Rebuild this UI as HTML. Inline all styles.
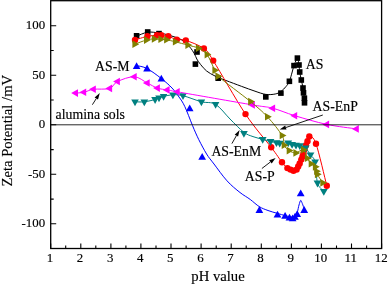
<!DOCTYPE html>
<html><head><meta charset="utf-8"><title>Zeta potential vs pH</title>
<style>html,body{margin:0;padding:0;background:#fff;overflow:hidden}svg{filter:blur(0.35px)}.tx{font-family:"Liberation Serif","Times New Roman",serif}</style></head>
<body>
<svg width="388" height="285" viewBox="0 0 388 285" style="display:block">
<rect width="388" height="285" fill="#fff"/>
<path d="M136.6 36.2 C138.4 35.5 144.0 32.7 147.7 32.2 C151.4 31.7 155.3 32.5 159.0 33.0 C162.7 33.5 166.2 34.3 170.0 35.5 C173.8 36.7 178.7 38.1 182.0 40.0 C185.3 41.9 187.6 44.7 189.7 47.0 C191.8 49.3 193.1 51.6 194.3 53.6 C195.5 55.6 195.8 57.2 196.8 59.0 C197.8 60.8 198.9 62.4 200.5 64.4 C202.1 66.4 204.2 69.1 206.6 71.0 C209.0 72.9 211.8 74.4 215.0 76.0 C218.2 77.6 221.6 78.8 226.0 80.5 C230.4 82.2 236.6 84.5 241.4 86.3 C246.2 88.1 250.9 89.8 255.0 91.2 C259.1 92.6 262.4 93.9 265.8 94.4 C269.2 94.9 272.7 94.5 275.2 94.0 C277.7 93.5 279.2 92.8 281.0 91.5 C282.8 90.2 284.6 88.2 286.0 86.5 C287.4 84.8 288.4 83.7 289.4 81.3 C290.4 78.9 291.4 74.6 292.2 72.0 C293.0 69.4 293.1 67.9 294.0 65.6 C294.9 63.3 296.6 58.2 297.4 58.1 C298.2 58.0 298.6 62.7 299.0 65.0 C299.4 67.3 299.3 69.5 299.7 72.0 C300.1 74.5 300.8 77.3 301.3 80.0 C301.9 82.7 302.5 85.0 303.0 88.0 C303.5 91.0 304.1 95.7 304.4 98.2 C304.6 100.7 304.5 102.0 304.5 102.8" fill="none" stroke="#000" stroke-width="1.00" stroke-linejoin="round"/>
<rect x="133.8" y="33.0" width="5.6" height="5.6" fill="#000"/><rect x="144.9" y="29.2" width="5.6" height="5.6" fill="#000"/><rect x="156.2" y="30.8" width="5.6" height="5.6" fill="#000"/><rect x="194.2" y="49.2" width="5.6" height="5.6" fill="#000"/><rect x="192.6" y="61.3" width="5.6" height="5.6" fill="#000"/><rect x="215.4" y="75.4" width="5.6" height="5.6" fill="#000"/><rect x="263.0" y="94.1" width="5.6" height="5.6" fill="#000"/><rect x="278.1" y="90.3" width="5.6" height="5.6" fill="#000"/><rect x="286.6" y="78.5" width="5.6" height="5.6" fill="#000"/><rect x="291.2" y="62.8" width="5.6" height="5.6" fill="#000"/><rect x="294.6" y="55.3" width="5.6" height="5.6" fill="#000"/><rect x="296.2" y="62.2" width="5.6" height="5.6" fill="#000"/><rect x="296.9" y="69.2" width="5.6" height="5.6" fill="#000"/><rect x="298.5" y="77.2" width="5.6" height="5.6" fill="#000"/><rect x="300.2" y="85.2" width="5.6" height="5.6" fill="#000"/><rect x="300.7" y="90.0" width="5.6" height="5.6" fill="#000"/><rect x="301.6" y="95.4" width="5.6" height="5.6" fill="#000"/><rect x="301.7" y="100.0" width="5.6" height="5.6" fill="#000"/>
<path d="M135.0 40.0 C137.1 39.4 143.7 37.1 147.4 36.3 C151.1 35.5 154.7 35.5 157.0 35.3 C159.3 35.1 159.4 35.1 161.3 35.3 C163.2 35.5 165.7 35.6 168.3 36.3 C170.9 37.0 173.9 38.9 176.8 39.6 C179.7 40.3 181.3 38.9 185.8 40.4 C190.3 41.9 199.3 45.1 203.9 48.5 C208.5 51.9 206.3 49.7 213.2 60.6 C220.1 71.5 235.8 99.6 245.5 114.1 C255.2 128.6 265.1 139.3 271.2 147.3 C277.3 155.3 279.3 158.8 282.0 162.3 C284.7 165.8 286.0 166.9 287.4 168.1 C288.8 169.3 289.5 169.2 290.5 169.6 C291.5 170.0 292.5 170.7 293.5 170.7 C294.5 170.7 295.8 170.3 296.6 169.6 C297.4 168.9 297.7 167.5 298.2 166.5 C298.7 165.5 299.2 164.6 299.7 163.4 C300.2 162.2 300.8 160.8 301.3 159.6 C301.8 158.5 302.1 157.6 302.5 156.5 C302.9 155.4 303.2 154.5 303.5 153.3 C303.8 152.1 304.1 150.6 304.5 149.3 C304.9 148.0 305.5 146.6 306.0 145.3 C306.5 144.0 306.9 142.8 307.5 141.3 C308.1 139.8 307.9 136.0 309.3 136.4 C310.7 136.8 313.1 135.6 316.0 143.8 C318.9 152.0 325.0 178.8 326.8 185.8" fill="none" stroke="#f00" stroke-width="1.00" stroke-linejoin="round"/>
<circle cx="135.0" cy="40.0" r="3.2" fill="#f00"/><circle cx="147.4" cy="36.3" r="3.2" fill="#f00"/><circle cx="157.0" cy="35.3" r="3.2" fill="#f00"/><circle cx="161.3" cy="35.3" r="3.2" fill="#f00"/><circle cx="168.3" cy="36.3" r="3.2" fill="#f00"/><circle cx="176.8" cy="39.6" r="3.2" fill="#f00"/><circle cx="185.8" cy="40.4" r="3.2" fill="#f00"/><circle cx="203.9" cy="48.5" r="3.2" fill="#f00"/><circle cx="213.2" cy="60.6" r="3.2" fill="#f00"/><circle cx="245.5" cy="114.1" r="3.2" fill="#f00"/><circle cx="271.2" cy="147.3" r="3.2" fill="#f00"/><circle cx="282.0" cy="162.3" r="3.2" fill="#f00"/><circle cx="287.4" cy="168.1" r="3.2" fill="#f00"/><circle cx="290.5" cy="169.6" r="3.2" fill="#f00"/><circle cx="293.5" cy="170.7" r="3.2" fill="#f00"/><circle cx="296.6" cy="169.6" r="3.2" fill="#f00"/><circle cx="298.2" cy="166.5" r="3.2" fill="#f00"/><circle cx="299.7" cy="163.4" r="3.2" fill="#f00"/><circle cx="301.3" cy="159.6" r="3.2" fill="#f00"/><circle cx="302.5" cy="156.5" r="3.2" fill="#f00"/><circle cx="303.5" cy="153.3" r="3.2" fill="#f00"/><circle cx="304.5" cy="149.3" r="3.2" fill="#f00"/><circle cx="306.0" cy="145.3" r="3.2" fill="#f00"/><circle cx="307.5" cy="141.3" r="3.2" fill="#f00"/><circle cx="309.3" cy="136.4" r="3.2" fill="#f00"/><circle cx="316.0" cy="143.8" r="3.2" fill="#f00"/><circle cx="326.8" cy="185.8" r="3.2" fill="#f00"/>
<path d="M136.6 65.6 C138.3 66.1 142.9 66.3 147.0 68.5 C151.1 70.7 157.1 75.2 161.3 78.5 C165.5 81.8 169.1 84.9 172.0 88.0 C174.9 91.1 176.9 94.0 179.0 97.0 C181.1 100.0 182.4 101.5 184.7 106.3 C186.9 111.0 190.2 119.9 192.5 125.5 C194.8 131.1 196.5 134.9 198.8 139.7 C201.2 144.4 204.1 149.9 206.6 154.0 C209.1 158.1 210.6 159.5 214.0 164.0 C217.4 168.5 222.7 176.1 227.0 180.8 C231.3 185.6 236.1 189.4 240.0 192.5 C243.9 195.6 247.1 197.1 250.3 199.5 C253.5 201.9 256.4 204.9 259.4 206.7 C262.3 208.5 265.0 209.4 268.0 210.5 C271.0 211.6 274.7 212.6 277.5 213.4 C280.3 214.2 283.0 215.1 285.0 215.6 C287.0 216.1 288.2 216.4 289.5 216.6 C290.8 216.8 291.6 217.2 292.6 217.0 C293.6 216.8 294.7 216.3 295.5 215.5 C296.3 214.7 296.8 213.8 297.4 212.0 C298.0 210.2 298.4 206.9 299.0 205.0 C299.6 203.1 300.1 200.7 300.7 200.4 C301.2 200.2 301.7 202.1 302.3 203.5 C302.9 204.9 303.9 208.1 304.2 209.0" fill="none" stroke="#00f" stroke-width="1.00" stroke-linejoin="round"/>
<polygon points="136.6,62.2 132.8,69.0 140.4,69.0" fill="#00f"/><polygon points="147.1,64.6 143.2,71.4 150.9,71.4" fill="#00f"/><polygon points="161.3,74.7 157.5,81.5 165.2,81.5" fill="#00f"/><polygon points="189.7,104.4 185.8,111.2 193.5,111.2" fill="#00f"/><polygon points="202.2,153.0 198.3,159.8 206.0,159.8" fill="#00f"/><polygon points="259.4,206.1 255.5,212.9 263.2,212.9" fill="#00f"/><polygon points="277.5,210.7 273.6,217.5 281.4,217.5" fill="#00f"/><polygon points="285.1,211.9 281.2,218.7 289.0,218.7" fill="#00f"/><polygon points="289.5,213.7 285.6,220.5 293.4,220.5" fill="#00f"/><polygon points="292.6,214.4 288.8,221.2 296.5,221.2" fill="#00f"/><polygon points="294.9,213.0 291.0,219.8 298.8,219.8" fill="#00f"/><polygon points="297.2,210.2 293.3,217.0 301.1,217.0" fill="#00f"/><polygon points="300.7,189.4 296.8,196.2 304.6,196.2" fill="#00f"/><polygon points="304.2,206.1 300.3,212.9 308.1,212.9" fill="#00f"/>
<path d="M135.0 101.8 C136.6 101.8 141.0 102.2 144.3 101.8 C147.7 101.4 152.7 100.2 155.1 99.5 C157.5 98.8 157.6 98.4 159.0 97.9 C160.4 97.4 161.3 96.9 163.6 96.4 C165.9 95.9 169.7 94.9 172.9 94.8 C176.1 94.7 178.2 94.5 183.0 95.7 C187.8 96.9 196.0 100.3 201.4 101.8 C206.8 103.2 210.8 101.5 215.6 104.4 C220.4 107.3 225.3 114.3 230.0 119.0 C234.7 123.7 240.1 129.4 243.9 132.3 C247.7 135.2 249.9 135.4 253.0 136.6 C256.1 137.8 259.8 138.5 262.7 139.3 C265.6 140.1 268.2 140.9 270.5 141.5 C272.8 142.1 275.0 142.4 276.5 142.7 C278.0 143.0 277.8 143.2 279.7 143.2 C281.6 143.2 286.1 142.7 288.2 142.9 C290.3 143.1 290.8 144.0 292.1 144.4 C293.4 144.8 294.7 145.0 296.0 145.2 C297.3 145.4 298.2 145.2 299.8 145.7 C301.4 146.2 303.7 146.5 305.5 148.0 C307.3 149.5 308.9 152.6 310.5 154.9 C312.1 157.2 313.9 157.2 315.1 161.9 C316.3 166.6 316.1 178.1 317.5 183.0 C318.9 187.9 322.8 190.0 323.8 191.4" fill="none" stroke="#008080" stroke-width="1.00" stroke-linejoin="round"/>
<polygon points="135.0,106.2 131.2,99.4 138.8,99.4" fill="#008080"/><polygon points="144.3,106.2 140.5,99.4 148.2,99.4" fill="#008080"/><polygon points="155.1,103.9 151.2,97.1 158.9,97.1" fill="#008080"/><polygon points="159.0,102.3 155.2,95.5 162.8,95.5" fill="#008080"/><polygon points="163.6,100.8 159.8,94.0 167.4,94.0" fill="#008080"/><polygon points="172.9,99.2 169.1,92.4 176.8,92.4" fill="#008080"/><polygon points="183.0,100.1 179.2,93.3 186.8,93.3" fill="#008080"/><polygon points="201.4,106.2 197.6,99.4 205.2,99.4" fill="#008080"/><polygon points="215.6,108.8 211.8,102.0 219.4,102.0" fill="#008080"/><polygon points="243.9,137.8 240.1,131.0 247.8,131.0" fill="#008080"/><polygon points="262.7,143.7 258.8,136.9 266.6,136.9" fill="#008080"/><polygon points="270.5,145.9 266.6,139.1 274.4,139.1" fill="#008080"/><polygon points="276.5,147.1 272.6,140.3 280.4,140.3" fill="#008080"/><polygon points="279.7,147.6 275.8,140.8 283.6,140.8" fill="#008080"/><polygon points="288.2,147.3 284.3,140.5 292.1,140.5" fill="#008080"/><polygon points="292.1,148.8 288.2,142.0 296.0,142.0" fill="#008080"/><polygon points="296.0,149.6 292.1,142.8 299.9,142.8" fill="#008080"/><polygon points="299.8,150.1 295.9,143.3 303.7,143.3" fill="#008080"/><polygon points="305.5,152.4 301.6,145.6 309.4,145.6" fill="#008080"/><polygon points="310.5,159.3 306.6,152.5 314.4,152.5" fill="#008080"/><polygon points="315.1,166.3 311.2,159.5 319.0,159.5" fill="#008080"/><polygon points="317.5,187.4 313.6,180.6 321.4,180.6" fill="#008080"/><polygon points="323.8,195.8 319.9,189.0 327.7,189.0" fill="#008080"/>
<path d="M75.6 93.1 C77.0 93.0 80.8 92.9 83.8 92.3 C86.8 91.7 89.1 89.9 93.4 89.3 C97.7 88.7 105.7 89.7 109.7 88.4 C113.7 87.1 113.4 83.4 117.5 81.5 C121.6 79.6 129.3 76.5 134.3 76.8 C139.3 77.0 143.4 81.1 147.3 83.0 C151.2 84.9 154.2 87.0 157.5 88.1 C160.8 89.3 163.9 89.3 167.2 89.9 C170.5 90.5 163.1 89.3 177.3 91.8 C191.5 94.3 236.6 102.2 252.5 104.9 C268.4 107.6 265.6 106.4 272.7 108.2 C279.8 110.0 285.8 113.0 294.8 115.7 C303.8 118.4 316.4 122.2 326.7 124.4 C337.0 126.6 351.4 128.1 356.4 128.9" fill="none" stroke="#f0f" stroke-width="1.00" stroke-linejoin="round"/>
<polygon points="71.2,93.1 78.0,89.3 78.0,97.0" fill="#f0f"/><polygon points="79.4,92.3 86.2,88.5 86.2,96.1" fill="#f0f"/><polygon points="89.0,89.3 95.8,85.5 95.8,93.1" fill="#f0f"/><polygon points="105.3,88.4 112.1,84.6 112.1,92.2" fill="#f0f"/><polygon points="113.1,81.5 119.9,77.7 119.9,85.3" fill="#f0f"/><polygon points="129.9,76.8 136.7,73.0 136.7,80.6" fill="#f0f"/><polygon points="142.9,83.0 149.7,79.2 149.7,86.8" fill="#f0f"/><polygon points="153.1,88.1 159.9,84.3 159.9,92.0" fill="#f0f"/><polygon points="162.8,89.9 169.6,86.1 169.6,93.8" fill="#f0f"/><polygon points="172.9,91.8 179.7,88.0 179.7,95.6" fill="#f0f"/><polygon points="248.1,104.9 254.9,101.1 254.9,108.8" fill="#f0f"/><polygon points="268.3,108.2 275.1,104.4 275.1,112.0" fill="#f0f"/><polygon points="290.4,115.7 297.2,111.9 297.2,119.5" fill="#f0f"/><polygon points="322.3,124.4 329.1,120.6 329.1,128.2" fill="#f0f"/><polygon points="352.0,128.9 358.8,125.0 358.8,132.7" fill="#f0f"/>
<path d="M134.8 44.2 C136.7 43.5 143.2 40.9 146.4 40.0 C149.6 39.1 151.8 39.0 154.2 38.9 C156.6 38.8 158.8 39.1 160.8 39.3 C162.9 39.4 164.1 39.4 166.5 39.8 C168.9 40.2 171.8 40.9 175.3 41.8 C178.9 42.7 184.0 44.0 187.8 45.1 C191.6 46.2 195.1 46.6 198.3 48.2 C201.5 49.8 204.2 50.8 207.0 54.5 C209.8 58.2 213.0 66.7 214.8 70.3 C216.6 73.9 212.1 71.0 218.0 76.2 C223.9 81.4 242.3 94.8 250.5 101.6 C258.7 108.4 262.1 111.1 267.4 116.8 C272.7 122.5 279.3 130.8 282.1 135.5 C284.9 140.2 282.9 142.7 284.1 145.2 C285.3 147.7 287.2 149.3 289.1 150.6 C291.1 151.9 293.4 153.1 295.8 152.9 C298.2 152.8 301.4 148.8 303.3 149.7 C305.2 150.6 306.0 155.9 307.3 158.2 C308.6 160.5 309.8 162.3 311.1 163.7 C312.4 165.1 314.4 165.6 315.3 166.8 C316.2 168.1 316.2 170.0 316.5 171.2 C316.8 172.5 316.3 172.4 317.3 174.3 C318.3 176.2 321.8 181.4 322.7 182.8" fill="none" stroke="#808000" stroke-width="1.00" stroke-linejoin="round"/>
<polygon points="139.2,44.2 132.4,40.3 132.4,48.0" fill="#808000"/><polygon points="150.8,40.0 144.0,36.1 144.0,43.9" fill="#808000"/><polygon points="158.6,38.9 151.8,35.0 151.8,42.8" fill="#808000"/><polygon points="165.2,39.3 158.4,35.4 158.4,43.1" fill="#808000"/><polygon points="170.9,39.8 164.1,35.9 164.1,43.6" fill="#808000"/><polygon points="179.7,41.8 172.9,37.9 172.9,45.6" fill="#808000"/><polygon points="192.2,45.1 185.4,41.2 185.4,48.9" fill="#808000"/><polygon points="202.7,48.2 195.9,44.3 195.9,52.0" fill="#808000"/><polygon points="211.4,54.5 204.6,50.6 204.6,58.4" fill="#808000"/><polygon points="219.2,70.3 212.4,66.5 212.4,74.1" fill="#808000"/><polygon points="222.4,76.2 215.6,72.4 215.6,80.0" fill="#808000"/><polygon points="254.9,101.6 248.1,97.8 248.1,105.4" fill="#808000"/><polygon points="271.8,116.8 265.0,113.0 265.0,120.6" fill="#808000"/><polygon points="286.5,135.5 279.7,131.7 279.7,139.3" fill="#808000"/><polygon points="288.5,145.2 281.7,141.4 281.7,149.1" fill="#808000"/><polygon points="293.5,150.6 286.7,146.8 286.7,154.5" fill="#808000"/><polygon points="300.2,152.9 293.4,149.1 293.4,156.8" fill="#808000"/><polygon points="307.7,149.7 300.9,145.9 300.9,153.6" fill="#808000"/><polygon points="311.7,158.2 304.9,154.4 304.9,162.1" fill="#808000"/><polygon points="315.5,163.7 308.7,159.9 308.7,167.6" fill="#808000"/><polygon points="319.7,166.8 312.9,163.0 312.9,170.7" fill="#808000"/><polygon points="320.9,171.2 314.1,167.4 314.1,175.1" fill="#808000"/><polygon points="321.7,174.3 314.9,170.5 314.9,178.2" fill="#808000"/><polygon points="327.1,182.8 320.3,179.0 320.3,186.7" fill="#808000"/>
<line x1="50.7" y1="124.8" x2="381.6" y2="124.8" stroke="#000" stroke-width="0.85"/>
<rect x="50.7" y="0.7" width="330.9" height="247.8" fill="none" stroke="#000" stroke-width="1.3"/>
<path d="M50.7 248.5V243.5M65.7 248.5V245.5M80.8 248.5V243.5M95.8 248.5V245.5M110.9 248.5V243.5M125.9 248.5V245.5M140.9 248.5V243.5M156.0 248.5V245.5M171.0 248.5V243.5M186.1 248.5V245.5M201.1 248.5V243.5M216.2 248.5V245.5M231.2 248.5V243.5M246.2 248.5V245.5M261.3 248.5V243.5M276.3 248.5V245.5M291.4 248.5V243.5M306.4 248.5V245.5M321.4 248.5V243.5M336.5 248.5V245.5M351.5 248.5V243.5M366.6 248.5V245.5M381.6 248.5V243.5M50.7 223.8H56.2M50.7 174.3H56.2M50.7 124.8H56.2M50.7 75.3H56.2M50.7 25.8H56.2M50.7 199.1H53.7M50.7 149.6H53.7M50.7 100.0H53.7M50.7 50.5H53.7" stroke="#000" stroke-width="1.1" fill="none"/>
<g class="tx" fill="#000" stroke="#000" stroke-width="0.15">
<g font-size="12.9">
<text x="50.0" y="262.0" text-anchor="middle">1</text>
<text x="80.1" y="262.0" text-anchor="middle">2</text>
<text x="110.2" y="262.0" text-anchor="middle">3</text>
<text x="140.2" y="262.0" text-anchor="middle">4</text>
<text x="170.3" y="262.0" text-anchor="middle">5</text>
<text x="200.4" y="262.0" text-anchor="middle">6</text>
<text x="230.5" y="262.0" text-anchor="middle">7</text>
<text x="260.6" y="262.0" text-anchor="middle">8</text>
<text x="290.7" y="262.0" text-anchor="middle">9</text>
<text x="320.7" y="262.0" text-anchor="middle">10</text>
<text x="350.8" y="262.0" text-anchor="middle">11</text>
<text x="381.3" y="262.0" text-anchor="middle">12</text>
<text x="45.2" y="227.2" text-anchor="end">-100</text>
<text x="45.2" y="177.7" text-anchor="end">-50</text>
<text x="45.2" y="128.2" text-anchor="end">0</text>
<text x="45.2" y="78.7" text-anchor="end">50</text>
<text x="45.2" y="29.2" text-anchor="end">100</text>
</g>
<text x="218" y="281.2" text-anchor="middle" font-size="14.7">pH value</text>
<text transform="translate(11.6 130.7) rotate(-90)" text-anchor="middle" font-size="14.7">Zeta Potential /mV</text>
<g font-size="13.8">
<text x="305.8" y="68.8">AS</text>
<text x="312.6" y="111.2">AS-EnP</text>
<text x="95" y="71">AS-M</text>
<text x="55.6" y="118.8">alumina sols</text>
<text x="211.4" y="155.9">AS-EnM</text>
<text x="244.8" y="181.2">AS-P</text>
</g></g>
<line x1="92.4" y1="104.7" x2="96.3" y2="98.5" stroke="#000" stroke-width="0.9"/><polygon points="99.8,93.0 98.0,99.6 94.6,97.4" fill="#000"/>
<line x1="322.8" y1="115.0" x2="285.9" y2="127.5" stroke="#000" stroke-width="0.9"/><polygon points="279.7,129.6 285.2,125.6 286.5,129.4" fill="#000"/>
<line x1="231.9" y1="143.6" x2="236.4" y2="135.7" stroke="#000" stroke-width="0.9"/><polygon points="239.6,130.0 238.1,136.6 234.7,134.7" fill="#000"/>
<line x1="261.9" y1="168.5" x2="270.5" y2="161.9" stroke="#000" stroke-width="0.9"/><polygon points="275.6,157.9 271.7,163.5 269.2,160.3" fill="#000"/>
</svg>
</body></html>
